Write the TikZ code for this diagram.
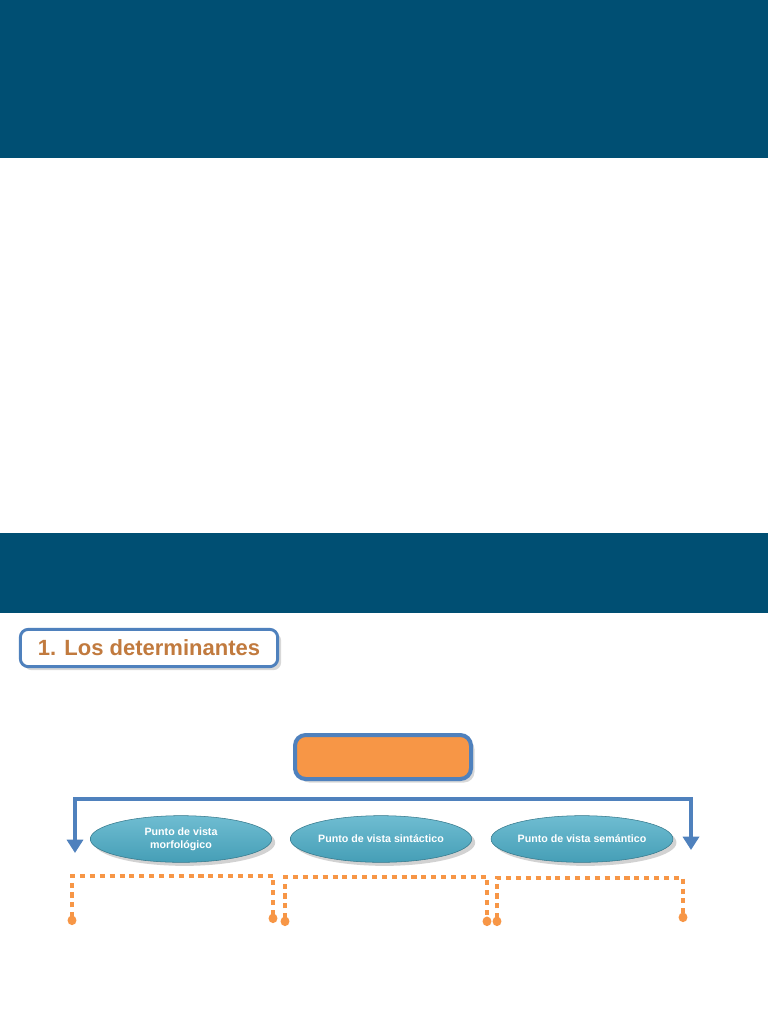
\documentclass[tikz,border=0pt]{standalone}
\usepackage{fontspec}
\setmainfont{Liberation Sans}
\usetikzlibrary{shapes.geometric,arrows.meta,shadows}

\definecolor{bandblue}{HTML}{004F73}
\definecolor{frameblue}{HTML}{4F81BD}
\definecolor{boxorange}{HTML}{F79646}
\definecolor{titlebrown}{HTML}{C17A3E}
\definecolor{ovalblue}{HTML}{4BACC6}

\tikzstyle{band} = [fill=bandblue]
\tikzstyle{titlebox} = [draw=frameblue, line width=2.2pt, fill=white, rounded corners=6pt,
	minimum width=193pt, minimum height=28pt, text=titlebrown,
	font=\fontsize{16.5}{20}\selectfont\bfseries, drop shadow={opacity=0.3}]
\tikzstyle{mainbox} = [draw=frameblue, line width=3pt, fill=boxorange, rounded corners=8pt,
	minimum width=132pt, minimum height=33pt, drop shadow={opacity=0.3}]
\tikzstyle{view} = [ellipse, top color=ovalblue!80!white, bottom color=ovalblue!92!black,
	draw=ovalblue!70!black, line width=0.4pt,
	minimum width=136pt, minimum height=35pt, inner sep=0pt, align=center, text=white,
	font=\fontsize{8}{9.5}\selectfont\bfseries, drop shadow={opacity=0.35}]
\tikzstyle{branch} = [draw=frameblue, line width=3pt,
	{Triangle[width=12pt,length=10pt]}-{Triangle[width=12pt,length=10pt]}]
\tikzstyle{bracket} = [draw=boxorange, line width=2.4pt, dash pattern=on 3.8pt off 3.6pt,
	{Circle[length=7pt,width=6.5pt]}-{Circle[length=7pt,width=6.5pt]}]

\begin{document}
\begin{tikzpicture}[x=0.75pt, y=-0.75pt]
	\useasboundingbox[fill=white] (0,0) rectangle (768,1024);
	\fill[band] (0,0) rectangle (768,158);
	\fill[band] (0,533) rectangle (768,613);

	\node[titlebox] (title) at (149,648) {1. Los determinantes};
	\node[mainbox] (det) at (383,757) {};

	\node[view] (morf) at (181,839) {Punto de vista\\morfológico};
	\node[view] (sint) at (381,839) {Punto de vista sintáctico};
	\node[view] (sem) at (582,839) {Punto de vista semántico};

	\coordinate (l1) at (75,853);
	\coordinate (l2) at (75,799);
	\coordinate (r2) at (691,799);
	\coordinate (r1) at (691,850);
	\draw[branch] (l1) -- (l2) -- (r2) -- (r1);

	\coordinate (a1) at (72,925);
	\coordinate (a2) at (72,876);
	\coordinate (a3) at (273,876);
	\coordinate (a4) at (273,923);
	\draw[bracket] (a1) -- (a2) -- (a3) -- (a4);

	\coordinate (b1) at (285,926);
	\coordinate (b2) at (285,877);
	\coordinate (b3) at (487,877);
	\coordinate (b4) at (487,926);
	\draw[bracket] (b1) -- (b2) -- (b3) -- (b4);

	\coordinate (c1) at (497,926);
	\coordinate (c2) at (497,878);
	\coordinate (c3) at (683,878);
	\coordinate (c4) at (683,922);
	\draw[bracket] (c1) -- (c2) -- (c3) -- (c4);
\end{tikzpicture}
\end{document}
